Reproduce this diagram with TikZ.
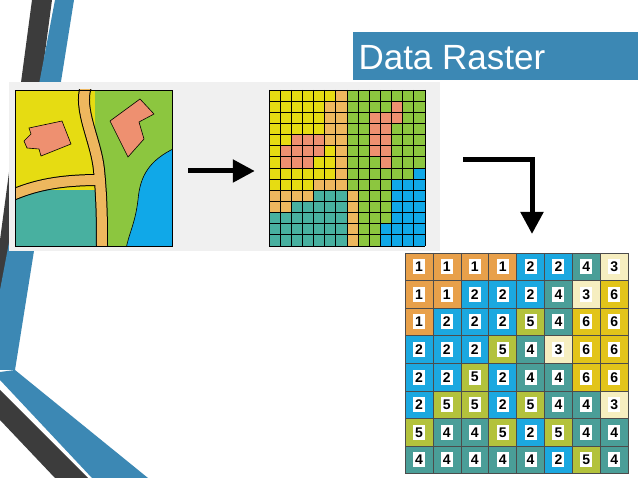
\documentclass[tikz,border=0pt]{standalone}
\usepackage{fontspec}
\setmainfont{Liberation Sans}
\usetikzlibrary{arrows.meta}
\definecolor{rY}{HTML}{E6DC12}
\definecolor{rO}{HTML}{EEB75E}
\definecolor{rG}{HTML}{8CC63F}
\definecolor{rP}{HTML}{EE9070}
\definecolor{rT}{HTML}{48B0A0}
\definecolor{rB}{HTML}{10A8E8}
\definecolor{n1}{HTML}{E8A04A}
\definecolor{n2}{HTML}{1BA8E0}
\definecolor{n3}{HTML}{F6EEC0}
\definecolor{n4}{HTML}{4A9E98}
\definecolor{n5}{HTML}{B3C23C}
\definecolor{n6}{HTML}{E2C41A}
\definecolor{bandblue}{HTML}{3C88B4}
\definecolor{banddark}{HTML}{3C3C3C}
\tikzset{
  bigarrow/.style={line width=5pt,-{Triangle[length=22pt,width=22pt]}},
  num/.style={fill=white,inner sep=0.5pt,minimum width=12pt,minimum height=15pt,font=\bfseries\fontsize{14}{14}\selectfont}
}
\begin{document}
\begin{tikzpicture}[x=1pt,y=-1pt]
\useasboundingbox (0,0) rectangle (638,478);
\fill[white] (0,0) rectangle (638,478);
% decorative bands
\fill[banddark] (32,0) -- (52,0) -- (10,315) -- (0,315) -- (0,240) -- (32,0);
\fill[bandblue] (55,0) -- (74,0) -- (15,370) -- (0,370) -- (0,290) -- (55,0);
\fill[bandblue] (0,372) -- (15,370) -- (148,478) -- (92,478) -- (0,380) -- (0,372);
\fill[banddark] (0,390) -- (88,478) -- (55,478) -- (0,420) -- (0,390);
% panel
\fill[gray!12] (9,82) rectangle (440,251);
% title
\fill[bandblue] (353,32) rectangle (638,80);
\node[anchor=west,text=white,font=\fontsize{35}{35}\selectfont] (title) at (355,58) {Data Raster};
% vector map
\begin{scope}
\clip (15,90) rectangle (172,246);
\fill[rG] (15,90) rectangle (172,246);
\fill[rY] (15,90) rectangle (95,195);
\fill[rT] (15,190) rectangle (104,246);
\draw[fill=rB,line width=0.6pt] (175,148) .. controls (150,160) and (140,175) .. (138,200) .. controls (135,225) and (128,235) .. (126,250) -- (175,250) -- (175,148);
\draw[line width=12pt] (86,86) .. controls (78,110) and (96,140) .. (99,170) .. controls (102,200) and (102,225) .. (102,250);
\draw[line width=12pt] (10,196) .. controls (35,185) and (60,180) .. (100,180);
\draw[rO,line width=10pt] (86,86) .. controls (78,110) and (96,140) .. (99,170) .. controls (102,200) and (102,225) .. (102,250);
\draw[rO,line width=10pt] (10,196) .. controls (35,185) and (60,180) .. (100,180);
\end{scope}
\draw[fill=rP,line width=0.6pt] (24,141) -- (31,134) -- (29,128) -- (62,121) -- (71,144) -- (41,156) -- (39,149) -- (27,148) -- (24,141);
\draw[fill=rP,line width=0.6pt] (110,121) -- (140,99) -- (154,114) -- (139,122) -- (144,139) -- (128,157) -- (110,121);
\draw[line width=0.8pt] (15,90) rectangle (172,246);
\node[inner sep=0pt,minimum width=157pt,minimum height=156pt] (map) at (93.5,168) {};
% raster
\foreach \row [count=\r from 0] in {
{Y,Y,Y,Y,Y,Y,O,G,G,G,G,G,G,G},
{Y,Y,Y,Y,Y,O,O,G,G,G,G,P,G,G},
{Y,Y,Y,Y,Y,O,O,G,G,P,P,P,G,G},
{Y,Y,Y,Y,Y,O,O,G,G,P,P,G,G,G},
{Y,Y,P,P,P,O,O,G,G,P,P,G,G,G},
{Y,P,P,P,P,Y,O,G,G,P,P,G,G,G},
{Y,P,P,P,Y,Y,O,G,G,G,P,G,G,G},
{Y,Y,Y,Y,Y,Y,O,G,G,G,G,G,G,B},
{Y,Y,Y,Y,O,O,O,G,G,G,G,B,B,B},
{O,O,O,O,T,T,T,O,G,G,G,B,B,B},
{O,O,T,T,T,T,T,O,G,G,G,B,B,B},
{T,T,T,T,T,T,T,O,G,G,G,B,B,B},
{T,T,T,T,T,T,T,O,G,G,B,B,B,B},
{T,T,T,T,T,T,T,O,G,G,B,B,B,B}} {
  \foreach \cc [count=\k from 0] in \row {
    \fill[r\cc] (269+\k*11.14,90+\r*11.14) rectangle ++(11.14,11.14);
  }
}
\foreach \i in {0,...,14} {
  \draw[line width=0.7pt] (269+\i*11.14,90) -- (269+\i*11.14,246);
  \draw[line width=0.7pt] (269,90+\i*11.14) -- (425,90+\i*11.14);
}
\node[inner sep=0pt,minimum width=156pt,minimum height=156pt] (raster) at (347,168) {};
% arrows
\coordinate (a0) at ([xshift=16pt,yshift=-3pt]map.east);
\coordinate (a1) at ([xshift=-14pt,yshift=-3pt]raster.west);
\draw[bigarrow] (a0) -- (a1);
\coordinate (e0) at (463,160);
\coordinate (e1) at (532,160);
\coordinate (e2) at (532,234);
\draw[bigarrow] (e0) -- (e1) -- (e2);
% numeric grid
\foreach \row [count=\r from 0] in {
{1,1,1,1,2,2,4,3},
{1,1,2,2,2,4,3,6},
{1,2,2,2,5,4,6,6},
{2,2,2,5,4,3,6,6},
{2,2,5,2,4,4,6,6},
{2,5,5,2,5,4,4,3},
{5,4,4,5,2,5,4,4},
{4,4,4,4,4,2,5,4}} {
  \foreach \v [count=\k from 0] in \row {
    \fill[n\v] (405+\k*27.9,253+\r*27.6) rectangle ++(27.9,27.6);
    \node[num] (g\r\k) at (405+\k*27.9+13.95,253+\r*27.6+13.8) {\v};
  }
}
\foreach \i in {0,...,8} {
  \draw[black!70,line width=0.6pt] (405+\i*27.9,253) -- (405+\i*27.9,473.8);
  \draw[black!70,line width=0.6pt] (405,253+\i*27.6) -- (628.2,253+\i*27.6);
}
\end{tikzpicture}
\end{document}
